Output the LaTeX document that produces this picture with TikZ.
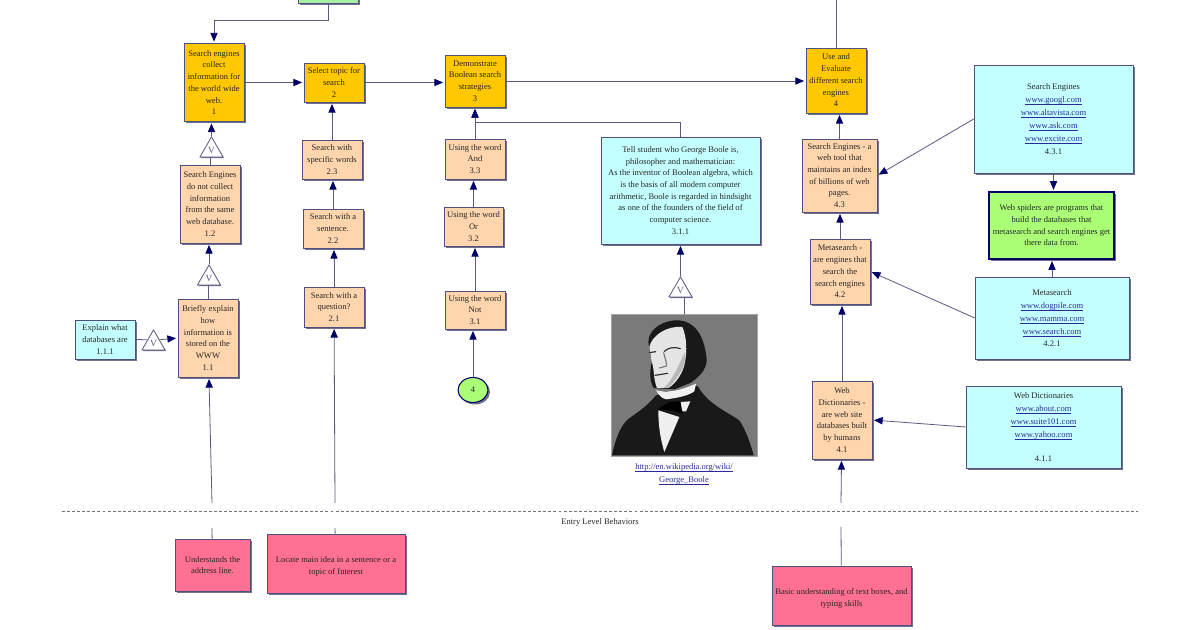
\documentclass[tikz,border=0pt]{standalone}
\usepackage{fontspec}
\setmainfont{Liberation Serif}
\usetikzlibrary{arrows.meta, shapes.geometric, shadows}
\definecolor{GoalFill}{HTML}{FFC800}
\definecolor{StepFill}{HTML}{FFD5AD}
\definecolor{InfoFill}{HTML}{C4FFFF}
\definecolor{NoteFill}{HTML}{AAFF77}
\definecolor{EntryFill}{HTML}{FF7092}
\definecolor{TopFill}{HTML}{A8EFA4}
\definecolor{EdgeLine}{HTML}{5A5A80}
\definecolor{BoxLine}{HTML}{50507E}
\definecolor{TipFill}{HTML}{000066}
\definecolor{ShadowFill}{HTML}{70708C}
\definecolor{LinkBlue}{HTML}{2A2A9A}
\definecolor{TextInk}{HTML}{262626}
\newcommand{\WebLink}[1]{\textcolor{LinkBlue}{\underline{\smash{#1}}}}

\begin{document}
\begin{tikzpicture}[
	x=0.75pt, y=-0.75pt,
	BoxSize/.style 2 args={minimum width=#1*0.75pt, minimum height=#2*0.75pt},
	TextDrop/.style={execute at begin node={\rule{0pt}{5.8pt}}},
	MyBox/.style={rectangle, draw=BoxLine, line width=0.5pt, inner sep=0pt, align=center, text=TextInk,
		font=\fontsize{6.4}{8.8}\selectfont,
		drop shadow={shadow xshift=1.5pt, shadow yshift=-1.5pt, opacity=1, fill=ShadowFill}},
	GoalNode/.style={MyBox, TextDrop, fill=GoalFill},
	StepNode/.style={MyBox, TextDrop, fill=StepFill},
	InfoNode/.style={MyBox, fill=InfoFill},
	NoteNode/.style={MyBox, TextDrop, fill=NoteFill, draw=TipFill, line width=0.8pt},
	EntryNode/.style={MyBox, TextDrop, fill=EntryFill},
	TopNode/.style={MyBox, fill=TopFill},
	CircleNode/.style={MyBox, ellipse, fill=NoteFill, draw=TipFill, line width=0.8pt},
	VNode/.style={regular polygon, regular polygon sides=3, draw=EdgeLine, line width=0.6pt, fill=white,
		minimum size=20pt, inner sep=0pt, text=EdgeLine, font=\fontsize{7}{7}\selectfont,
		drop shadow={shadow xshift=0.6pt, shadow yshift=-0.8pt, opacity=1, fill=ShadowFill}},
	PlainText/.style={inner sep=0pt, align=center, text=TextInk, font=\fontsize{6.4}{8.8}\selectfont},
	Plain/.style={draw=EdgeLine, line width=0.6pt},
	Link/.style={Plain, -{Triangle[length=6.5pt, width=5.4pt, fill=TipFill, color=TipFill]}, shorten >=1.2pt}
	]

\useasboundingbox (0,0) rectangle (1200,630);

\node [TopNode, BoxSize={60}{46}] (top) at (328,-20) {};
\node [GoalNode, BoxSize={60}{78}] (g1) at (214,82.5) {Search engines\\collect\\information for\\the world wide\\web.\\1};
\node [GoalNode, BoxSize={60}{39}] (g2) at (334,82.5) {Select topic for\\search\\2};
\node [GoalNode, BoxSize={60}{52}] (g3) at (475,81) {Demonstrate\\Boolean search\\strategies\\3};
\node [GoalNode, BoxSize={60}{65}] (g4) at (836,80.5) {Use and\\Evaluate\\different search\\engines\\4};

\node [StepNode, BoxSize={60}{78}] (s12) at (210,204) {Search Engines\\do not collect\\information\\from the same\\web database.\\1.2};
\node [StepNode, BoxSize={60}{78}] (s11) at (208,338) {Briefly explain\\how\\information is\\stored on the\\WWW\\1.1};
\node [InfoNode, TextDrop, BoxSize={60}{39}] (i111) at (105,339.5) {Explain what\\databases are\\1.1.1};

\node [StepNode, BoxSize={60}{39}] (s23) at (332,159.5) {Search with\\specific words\\2.3};
\node [StepNode, BoxSize={60}{39}] (s22) at (333,228.5) {Search with a\\sentence.\\2.2};
\node [StepNode, BoxSize={60}{40}] (s21) at (334,307) {Search with a\\question?\\2.1};

\node [StepNode, BoxSize={60}{40}] (s33) at (475,159) {Using the word\\And\\3.3};
\node [StepNode, BoxSize={59}{39}] (s32) at (473.5,226.5) {Using the word\\Or\\3.2};
\node [StepNode, BoxSize={60}{38}] (s31) at (475,310) {Using the word\\Not\\3.1};
\node [CircleNode, minimum width=22.5pt, minimum height=18.75pt] (c4) at (473,390) {4};

\node [InfoNode, TextDrop, BoxSize={159}{107}] (i311) at (680.5,190.5) {Tell student who George Boole is,\\philosopher and mathematician:\\As the inventor of Boolean algebra, which\\is the basis of all modern computer\\arithmetic, Boole is regarded in hindsight\\as one of the founders of the field of\\computer science.\\3.1.1};

\node [StepNode, BoxSize={75}{73}] (s43) at (839.5,175.5) {Search Engines - a\\web tool that\\maintains an index\\of billions of web\\pages.\\4.3};
\node [StepNode, BoxSize={60}{65}] (s42) at (840,271.5) {Metasearch -\\are engines that\\search the\\search engines\\4.2};
\node [StepNode, BoxSize={60}{78}] (s41) at (842,420) {Web\\Dictionaries -\\are web site\\databases built\\by humans\\4.1};

\node [InfoNode, BoxSize={159}{108}] (i431) at (1053.5,119) {Search Engines\\[0.9pt]\WebLink{www.googl.com}\\[1pt]\WebLink{www.altavista.com}\\[1pt]\WebLink{www.ask.com}\\[1pt]\WebLink{www.excite.com}\\[0.6pt]4.3.1};
\node [NoteNode, BoxSize={125}{67}] (n1) at (1051.5,225.5) {Web spiders are programs that\\build the databases that\\metasearch and search engines get\\there data from.};
\node [InfoNode, BoxSize={154}{82}] (i421) at (1052,318) {Metasearch\\[0.9pt]\WebLink{www.dogpile.com}\\[1pt]\WebLink{www.mamma.com}\\[1pt]\WebLink{www.search.com}\\[0.6pt]4.2.1};
\node [InfoNode, BoxSize={155}{82}] (i411) at (1043.5,427) {Web Dictionaries\\[0.9pt]\WebLink{www.about.com}\\[1pt]\WebLink{www.suite101.com}\\[1pt]\WebLink{www.yahoo.com}\\[9.6pt]4.1.1};

\node [EntryNode, BoxSize={75}{52}] (e1) at (212.5,565) {Understands the\\address line.};
\node [EntryNode, BoxSize={138}{59}] (e2) at (336,563.5) {\rule{0pt}{9pt}Locate main idea in a sentence or a\\topic of Interest};
\node [EntryNode, BoxSize={139}{59}] (e3) at (841.5,595.5) {\rule{0pt}{9pt}Basic understanding of text boxes, and\\typing skills};

\node [VNode] (v12) at (211.5,150.3) {V};
\node [VNode] (v11) at (209,278.3) {V};
\node [VNode] (v111) at (153.5,343.3) {V};
\node [VNode] (v311) at (680.5,290.3) {V};

\node [rectangle, fill=black!52, draw=black!35, line width=0.4pt, BoxSize={146}{142}] (portrait) at (684,385) {};
\begin{scope}[shift={(611,312)}, x=0.25pt, y=-0.25pt]
	\fill [black!90] (3,430) .. controls (15,370) and (35,330) .. (60,315) .. controls (90,295) and (115,275) .. (135,250) -- (260,222) .. controls (290,275) and (340,295) .. (385,325) .. controls (405,355) and (420,400) .. (428,430) -- cycle;
	\fill [black!90] (112,90) .. controls (112,50) and (160,22) .. (205,25) .. controls (250,30) and (275,65) .. (285,125) .. controls (295,165) and (270,190) .. (240,212) -- (190,232) -- (128,228) .. controls (115,205) and (116,180) .. (122,150) -- cycle;
	\fill [black!10] (115,105) .. controls (122,70) and (170,40) .. (214,45) .. controls (228,75) and (228,120) .. (222,150) .. controls (218,180) and (195,215) .. (172,228) -- (138,228) .. controls (126,200) and (130,165) .. (122,150) -- cycle;
	\fill [black!28] (222,120) .. controls (226,145) and (218,180) .. (172,228) -- (158,228) .. controls (185,205) and (200,165) .. (222,120) -- cycle;
	\draw [black!80, line width=0.9pt, line cap=round] (115,122) -- (134,119) (160,118) .. controls (172,106) and (192,104) .. (208,110) (132,190) -- (170,184);
	\draw [black!55, line width=0.8pt, line cap=round] (158,122) .. controls (160,135) and (168,150) .. (166,162) -- (145,168);
	\fill [black!6] (135,235) .. controls (145,250) and (150,258) .. (165,262) .. controls (200,258) and (235,250) .. (250,238) -- (255,215) .. controls (225,228) and (200,236) .. (175,238) -- (165,240) -- cycle;
	\fill [black!6] (142,295) -- (205,315) -- (160,420) .. controls (148,380) and (142,340) .. (142,295) -- cycle;
	\fill [black!6] (208,270) -- (238,268) -- (225,298) -- (212,298) -- cycle;
	\fill [black] (140,292) -- (175,270) -- (208,268) -- (215,305) -- (190,296) -- cycle;
\end{scope}
\node [PlainText] (source) at (684,477) {\WebLink{http://en.wikipedia.org/wiki/}\\[1pt]\WebLink{George\_Boole}};

\coordinate (dashL) at (62,511);
\coordinate (dashR) at (1138,511);
\draw [black!55, line width=0.5pt, dash pattern=on 2.2pt off 1.6pt] (dashL) -- (dashR);
\node [PlainText] (entry) at (600,522.5) {Entry Level Behaviors};

\coordinate (turn1) at (214,20);
\coordinate (turn3) at (475,122);
\coordinate (topright) at (836,-2);
\coordinate (up1) at (212,503);
\coordinate (up2) at (335,503);
\coordinate (up3) at (841,503);
\coordinate (low1) at (212,528);
\coordinate (low2) at (335,528);
\coordinate (low3) at (841,527);

\draw [Link] (top) |- (turn1) -- (g1);
\draw [Link] (g1) -- (g2);
\draw [Link] (g2.east) -- (g2.east -| g3.west);
\draw [Link] (g3.east) -- (g3.east -| g4.west);
\draw [Plain] (topright) -- (g4);

\draw [Plain] (s12.north) -- (s12.north |- v12.south);
\draw [Link] (v12.north) -- (v12.north |- g1.south);
\draw [Plain] (s11.north) -- (s11.north |- v11.south);
\draw [Link] (v11.north) -- (v11.north |- s12.south);
\draw [Plain] (i111.east) -- (v111.side 1);
\draw [Link] (v111.side 3) -- (s11.west);

\draw [Link] (s21.north) -- (s21.north |- s22.south);
\draw [Link] (s22.north) -- (s22.north |- s23.south);
\draw [Link] (s23.north) -- (s23.north |- g2.south);

\draw [Link] (c4.north) -- (c4.north |- s31.south);
\draw [Link] (s31.north) -- (s31.north |- s32.south);
\draw [Link] (s32.north) -- (s32.north |- s33.south);
\draw [Link] (s33.north) -- (s33.north |- g3.south);
\draw [Link] (i311) |- (turn3) -- (g3);
\draw [Plain] (portrait.north) -- (portrait.north |- v311.south);
\draw [Link] (v311.north) -- (v311.north |- i311.south);

\draw [Link] (s41.north) -- (s41.north |- s42.south);
\draw [Link] (s42.north) -- (s42.north |- s43.south);
\draw [Link] (s43.north) -- (s43.north |- g4.south);
\draw [Link] (i431.west) -- (s43.east);
\draw [Link] (i421.west) -- (s42.east);
\draw [Link] (i411.west) -- (s41.east);
\draw [Link] (i431.south) -- (i431.south |- n1.north);
\draw [Link] (i421.north) -- (i421.north |- n1.south);

\draw [Link] (up1) -- (s11);
\draw [Link] (up2) -- (s21);
\draw [Link] (up3) -- (s41);
\draw [Plain] (low1) -- (e1);
\draw [Plain] (low2) -- (e2);
\draw [Plain] (low3) -- (e3);

\end{tikzpicture}
\end{document}
